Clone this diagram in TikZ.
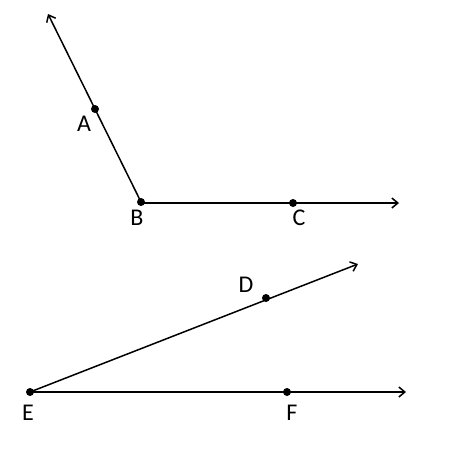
\documentclass[tikz,border=0pt]{standalone}
\usepackage{fontspec}
\setmainfont{Carlito}
\usetikzlibrary{arrows.meta}
\begin{document}
\begin{tikzpicture}[x=1pt,y=-1pt,
  ray/.style={line width=1.5pt,-{Straight Barb[length=6pt,width=10pt]}},
  dot/.style={circle,fill=black,inner sep=0pt,minimum size=8pt},
  lbl/.style={font=\fontsize{24}{26}\selectfont,inner sep=0pt}]
\useasboundingbox[fill=white] (0,0) rectangle (474,474);
\node[dot] (A) at (95,109) {};
\node[dot] (B) at (141,202) {};
\node[dot] (C) at (293,203) {};
\node[dot] (D) at (266,298) {};
\node[dot] (E) at (30,392) {};
\node[dot] (F) at (287,392) {};
\coordinate (a) at (48,14);
\coordinate (c) at (399,203);
\coordinate (d) at (358,264);
\coordinate (f) at (406,392);
\draw[ray] (B.center) -- (141,203) -- (c);
\draw[ray] (B.center) -- (a);
\draw[ray] (E.center) -- (d);
\draw[ray] (E.center) -- (f);
\node[lbl] (lA) at (84,124) {A};
\node[lbl] (lB) at (137,218) {B};
\node[lbl] (lC) at (299,218) {C};
\node[lbl] (lD) at (246,285) {D};
\node[lbl] (lE) at (28,413) {E};
\node[lbl] (lF) at (292,413) {F};
\end{tikzpicture}
\end{document}
